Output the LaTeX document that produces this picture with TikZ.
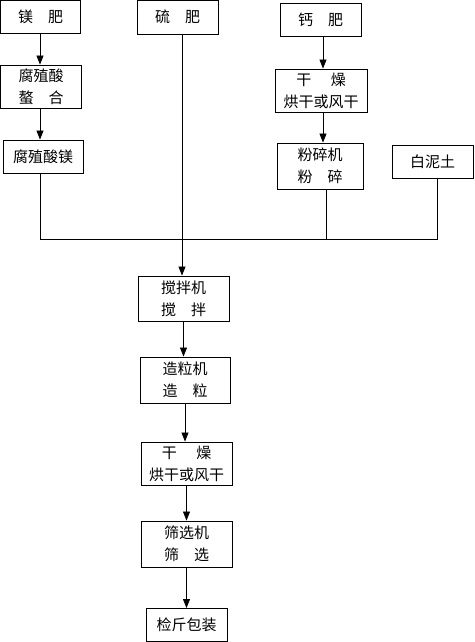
\documentclass[tikz,border=0pt]{standalone}
\usepackage{fontspec}
\setmainfont{Noto Sans CJK SC}
\usetikzlibrary{arrows.meta}
\begin{document}
\begin{tikzpicture}[x=1pt,y=-1pt,
  box/.style={draw,line width=0.9pt,rectangle,inner sep=0pt,align=center,
    font=\fontsize{15}{22}\selectfont},
  arr/.style={line width=0.8pt,-{Triangle[length=9pt,width=7pt]}},
  ln/.style={line width=0.8pt}]
\useasboundingbox (0,0) rectangle (474,642);
\node[box,minimum width=80pt,minimum height=33pt] (m1) at (40.5,16.5) {镁\hspace{1em}肥};
\node[box,minimum width=81pt,minimum height=43pt] (m2) at (41,86.5) {腐殖酸\\螯\hspace{1em}合};
\node[box,minimum width=80pt,minimum height=33pt] (m3) at (43,156.5) {腐殖酸镁};
\node[box,minimum width=81pt,minimum height=34pt] (s1) at (177.5,17) {硫\hspace{1em}肥};
\node[box,minimum width=81pt,minimum height=33pt] (c1) at (320.5,19.5) {钙\hspace{1em}肥};
\node[box,minimum width=92pt,minimum height=43pt] (c2) at (321,90.5) {干\hspace{1.3em}燥\\烘干或风干};
\node[box,minimum width=86pt,minimum height=46pt] (c3) at (320,166) {粉碎机\\粉\hspace{1em}碎};
\node[box,minimum width=81pt,minimum height=33pt] (bai) at (432.5,161.5) {白泥土};
\node[box,minimum width=91pt,minimum height=45pt] (p1) at (183.5,298.5) {搅拌机\\搅\hspace{1em}拌};
\node[box,minimum width=90pt,minimum height=46pt] (p2) at (185,380) {造粒机\\造\hspace{1em}粒};
\node[box,minimum width=91pt,minimum height=43pt] (p3) at (186.5,463.5) {干\hspace{1.3em}燥\\烘干或风干};
\node[box,minimum width=91pt,minimum height=46pt] (p4) at (186.5,544) {筛选机\\筛\hspace{1em}选};
\node[box,minimum width=81pt,minimum height=33pt] (p5) at (186.5,625) {检斤包装};
\coordinate (busL) at (40,239);
\coordinate (busR) at (437,239);
\coordinate (cx) at (323,0);
\coordinate (fx) at (326,0);
\coordinate (sx) at (182,0);
% magnesium branch
\draw[arr] (m1.south -| busL) -- (m2.north -| busL);
\draw[arr] (m2.south -| busL) -- (m3.north -| busL);
\draw[ln] (m3.south -| busL) -- (busL) -- (busR) -- (bai.south -| busR);
% calcium branch
\draw[arr] (c1.south -| cx) -- (c2.north -| cx);
\draw[arr] (c2.south -| cx) -- (c3.north -| cx);
\draw[ln] (c3.south -| fx) -- (busL -| fx);
% sulfur line into mixer
\draw[arr] (s1.south -| sx) -- (p1.north -| sx);
% main line
\draw[arr] (p1.south) -- (p1.south |- p2.north);
\draw[arr] (p2.south) -- (p2.south |- p3.north);
\draw[arr] (p3.south) -- (p3.south |- p4.north);
\draw[arr] (p4.south) -- (p4.south |- p5.north);
\end{tikzpicture}
\end{document}
